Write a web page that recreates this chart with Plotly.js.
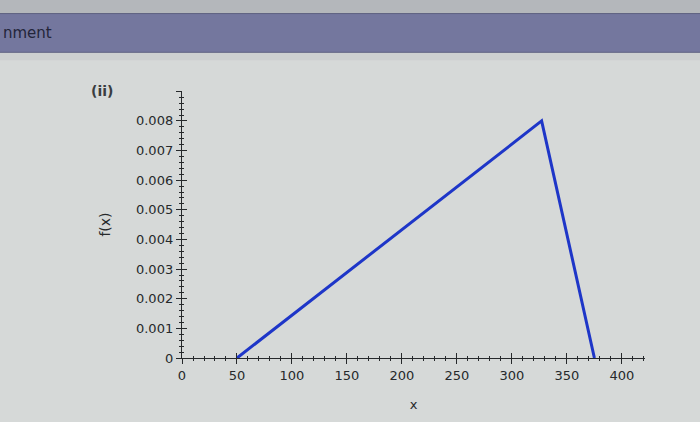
<!DOCTYPE html>
<html><head><meta charset="utf-8">
<script src="https://cdn.plot.ly/plotly-3.0.1.min.js"></script>
<style>html,body{margin:0;padding:0;background:#d6d9d8;}#chart{width:700px;height:422px;}</style>
</head><body><div id="chart"></div>
<script>
// Data
const xVals = [50, 327, 375];
const yVals = [0, 0.008, 0];
const yTickVals = [0, 0.001, 0.002, 0.003, 0.004, 0.005, 0.006, 0.007, 0.008, 0.009];
const yTickText = ['0', '0.001', '0.002', '0.003', '0.004', '0.005', '0.006', '0.007', '0.008', ''];
const xTickVals = [0, 50, 100, 150, 200, 250, 300, 350, 400];
const xTickText = ['0', '50', '100', '150', '200', '250', '300', '350', '400'];
const xTitle = 'x';
const yTitle = 'f(x)';
const headerText = 'nment';
const partLabel = '(ii)';

const axisColor = '#26292b';
const fnt = {family: 'DejaVu Sans, Verdana, sans-serif', size: 13, color: '#26292b'};

const traces = [
  {x: xVals, y: yVals, type: 'scatter', mode: 'lines', line: {color: '#1e36c8', width: 3}, xaxis: 'x', yaxis: 'y', hoverinfo: 'skip', cliponaxis: false},
  {x: [0], y: [0], type: 'scatter', mode: 'none', xaxis: 'x2', yaxis: 'y2', hoverinfo: 'skip'}
];

const xRange = [0, 421];
const yRange = [0, 0.00901];
const commonX = {range: xRange, showgrid: false, zeroline: false, fixedrange: true};
const commonY = {range: yRange, showgrid: false, zeroline: false, fixedrange: true};

const layout = {
  width: 700, height: 422,
  paper_bgcolor: '#d6d9d8', plot_bgcolor: 'rgba(0,0,0,0)',
  margin: {l: 182, r: 55, t: 91, b: 64},
  showlegend: false,
  font: fnt,
  xaxis: Object.assign({}, commonX, {
    tickmode: 'array', tickvals: xTickVals, ticktext: xTickText,
    ticks: 'outside', ticklen: 5, tickwidth: 1, tickcolor: axisColor,
    showline: true, linecolor: axisColor, linewidth: 1.2,
    tickfont: fnt, anchor: 'y',
    minor: {dtick: 10, tick0: 0, ticks: 'outside', ticklen: 2, tickcolor: axisColor},
    title: {text: xTitle, font: fnt, standoff: 18}
  }),
  yaxis: Object.assign({}, commonY, {
    tickmode: 'array', tickvals: yTickVals, ticktext: yTickText,
    ticks: 'outside', ticklen: 5, tickwidth: 1, tickcolor: axisColor,
    showline: true, linecolor: axisColor, linewidth: 1.2,
    tickfont: fnt, anchor: 'x',
    minor: {dtick: 0.0002, tick0: 0, ticks: 'outside', ticklen: 2, tickcolor: axisColor},
    title: {text: yTitle, font: {family: fnt.family, size: 14, color: fnt.color}, standoff: 22}
  }),
  xaxis2: Object.assign({}, commonX, {
    overlaying: 'x', anchor: 'y2', side: 'bottom',
    tickmode: 'array', tickvals: xTickVals, showticklabels: false,
    ticks: 'inside', ticklen: 5, tickwidth: 1, tickcolor: axisColor,
    minor: {dtick: 10, tick0: 0, ticks: 'inside', ticklen: 2, tickcolor: axisColor},
    showline: false
  }),
  yaxis2: Object.assign({}, commonY, {
    overlaying: 'y', anchor: 'x2', side: 'left',
    tickmode: 'array', tickvals: yTickVals, showticklabels: false,
    ticks: 'inside', ticklen: 5, tickwidth: 1, tickcolor: axisColor,
    minor: {dtick: 0.0002, tick0: 0, ticks: 'inside', ticklen: 2, tickcolor: axisColor},
    showline: false
  }),
  shapes: [
    {type: 'rect', xref: 'paper', yref: 'paper', x0: -0.5, x1: 1.3, y0: 1.29, y1: 1.4, layer: 'below', line: {width: 0}, fillcolor: '#b4b7bb'},
    {type: 'rect', xref: 'paper', yref: 'paper', x0: -0.5, x1: 1.3, y0: 1.115, y1: 1.145, layer: 'below', line: {width: 0}, fillcolor: '#cdd0d0'},
    {type: 'rect', xref: 'paper', yref: 'paper', x0: -0.5, x1: 1.3, y0: 1.145, y1: 1.29, layer: 'below', line: {width: 1, color: '#5d6080'}, fillcolor: '#74779e'}
  ],
  annotations: [
    {text: headerText, xref: 'paper', yref: 'paper', x: -0.39, y: 1.218, xanchor: 'left', yanchor: 'middle', showarrow: false, font: {family: 'DejaVu Sans, sans-serif', size: 15, color: '#23253a'}},
    {text: '<b>' + partLabel + '</b>', xref: 'paper', yref: 'paper', x: -0.2, y: 1.0, xanchor: 'left', yanchor: 'middle', showarrow: false, font: {family: 'DejaVu Sans, sans-serif', size: 14, color: '#3a3d40'}}
  ]
};

Plotly.newPlot('chart', traces, layout, {displayModeBar: false, staticPlot: true});
</script></body></html>
